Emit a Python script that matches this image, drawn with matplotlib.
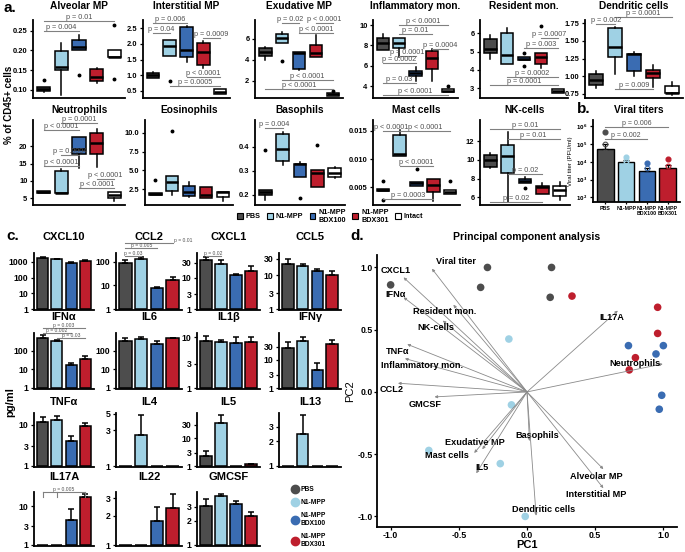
import numpy as np
import matplotlib.pyplot as plt
from matplotlib.patches import Patch
from matplotlib.lines import Line2D
from matplotlib.ticker import NullLocator

plt.rcParams['font.family'] = ['Liberation Sans', 'DejaVu Sans']
plt.rcParams['font.weight'] = 'bold'
plt.rcParams['mathtext.default'] = 'bf'

groups = ["PBS", "N1-MPP", "N1-MPP\nBDX100", "N1-MPP\nBDX301", "Intact"]
colors = ["#4d4d4d", "#9fd1e4", "#3a6cb2", "#be1e2d", "white"]

# panel a: (whisker low, q1, median, q3, whisker high, outliers) for each group
alveolar_mp = [(0.095, 0.098, 0.1025, 0.107, 0.108, [0.125]),
               (0.087, 0.1505, 0.159, 0.199, 0.218, []),
               (0.201, 0.201, 0.2095, 0.226, 0.239, [0.138]),
               (0.117, 0.123, 0.134, 0.153, 0.155, []),
               (0.183, 0.183, 0.184, 0.201, 0.201, [0.264, 0.128])]
interstitial_mp = [(0.90, 0.917, 0.99, 1.078, 1.09, []),
                   (1.623, 1.623, 1.933, 2.126, 2.126, [0.81]),
                   (1.43, 1.57, 1.80, 2.55, 2.57, []),
                   (1.24, 1.32, 1.75, 2.02, 2.10, []),
                   (0.38, 0.38, 0.46, 0.54, 0.54, [])]
exudative_mp = [(3.98, 4.37, 4.75, 5.10, 5.26, []),
                (5.65, 5.65, 6.06, 6.45, 6.7, [3.9]),
                (3.02, 3.09, 4.69, 4.78, 4.78, []),
                (4.3, 4.3, 4.7, 5.42, 6.38, []),
                (0.56, 0.56, 0.72, 0.85, 0.85, [1.0])]
inflammatory_mon = [(7.54, 7.54, 8.26, 8.69, 9.08, []),
                    (6.9, 7.7, 8.26, 8.75, 8.75, []),
                    (4.5, 4.98, 5.31, 5.5, 5.9, []),
                    (4.5, 5.64, 6.79, 7.48, 7.64, []),
                    (3.44, 3.44, 3.54, 3.67, 3.67, [4.0])]
resident_mon = [(4.6, 4.91, 5.13, 5.67, 5.91, []),
                (4.33, 4.33, 4.82, 6.0, 6.27, []),
                (4.55, 4.55, 4.62, 4.69, 4.69, [4.95, 4.24]),
                (4.09, 4.33, 4.69, 4.91, 4.91, [6.42]),
                (2.73, 2.73, 2.84, 2.95, 2.95, [])]
dendritic_cells = [(0.83, 0.877, 0.948, 1.033, 1.075, []),
                   (1.03, 1.269, 1.42, 1.689, 1.70, []),
                   (1.0, 1.075, 1.316, 1.316, 1.35, []),
                   (0.845, 0.97, 1.05, 1.09, 1.16, []),
                   (0.735, 0.76, 0.77, 0.863, 0.925, [])]
neutrophils = [(6.62, 6.62, 6.9, 7.2, 7.2, []),
               (6.43, 6.43, 6.62, 12.9, 13.3, []),
               (13.6, 17.7, 19.04, 22.5, 22.7, []),
               (14.1, 17.7, 21.0, 23.8, 25.0, []),
               (4.33, 5.0, 5.96, 6.9, 6.9, [])]
eosinophils = [(1.7, 1.7, 1.85, 1.93, 1.93, [3.69]),
               (1.7, 2.28, 3.38, 4.22, 4.22, [10.17]),
               (1.49, 1.57, 2.15, 2.9, 3.38, []),
               (1.27, 1.27, 1.7, 2.72, 2.8, []),
               (0.91, 1.49, 2.06, 2.15, 2.15, [])]
basophils = [(0.179, 0.2, 0.211, 0.221, 0.221, [0.386]),
             (0.325, 0.342, 0.389, 0.452, 0.462, []),
             (0.276, 0.276, 0.328, 0.328, 0.335, [0.186]),
             (0.232, 0.234, 0.29, 0.303, 0.303, [0.407]),
             (0.27, 0.276, 0.29, 0.31, 0.317, [])]
mast_cells = [(0.00435, 0.00435, 0.00453, 0.0047, 0.0047, [0.0062, 0.00275]),
              (0.0106, 0.0106, 0.011, 0.0143, 0.0152, []),
              (0.0052, 0.00524, 0.0057, 0.006, 0.006, [0.0082]),
              (0.0026, 0.0042, 0.0054, 0.0065, 0.0065, []),
              (0.0038, 0.0038, 0.0041, 0.0045, 0.0045, [0.0062])]
nk_cells = [(9.08, 9.26, 9.97, 10.5, 10.68, []),
            (5.54, 8.62, 10.4, 11.57, 13.0, []),
            (7.56, 7.56, 7.77, 7.95, 8.2, [6.96]),
            (6.35, 6.35, 7.13, 7.2, 7.49, []),
            (5.72, 6.14, 6.78, 7.2, 7.67, [])]

# p-value brackets: (group from, group to, height, label[, label x])
alveolar_p = [(1, 5, 0.275, "p = 0.01"), (1, 3, 0.25, "p = 0.004")]
interstitial_p = [(1, 3, 2.66, "p = 0.006"), (1, 2, 2.34, "p = 0.04"), (4, 5, 2.18, "p = 0.0009"),
                  (3, 5, 0.93, "p < 0.0001"), (2, 5, 0.65, "p = 0.0005")]
exudative_p = [(2, 3, 7.5, "p = 0.02"), (4, 5, 7.5, "p < 0.0001"), (3, 5, 6.55, "p < 0.0001"),
               (2, 5, 2.06, "p < 0.0001"), (1, 5, 1.17, "p < 0.0001")]
inflammatory_p = [(2, 5, 10.0, "p < 0.0001"), (2, 4, 9.08, "p = 0.01"), (4, 5, 7.6, "p = 0.0004"),
                  (2, 3, 6.95, "p = 0.0001"), (1, 3, 6.23, "p = 0.0002"), (1, 3, 4.26, "p = 0.03"),
                  (1, 5, 3.1, "p < 0.0001")]
resident_p = [(4, 5, 5.76, "p = 0.0007"), (3, 5, 5.22, "p = 0.003"), (2, 5, 3.64, "p = 0.0002"),
              (1, 5, 3.18, "p = 0.0001")]
dendritic_p = [(1, 2, 1.74, "p = 0.002"), (2, 5, 1.845, "p = 0.0001"), (2, 4, 0.816, "p = 0.009")]
neutrophils_p = [(2, 4, 26.7, "p = 0.0001"), (1, 3, 24.6, "p < 0.0001"), (2, 3, 17.4, "p = 0.0004"),
                 (1, 3, 14.26, "p < 0.0001"), (4, 5, 10.5, "p < 0.0001"), (3, 5, 7.9, "p < 0.0001")]
basophils_p = [(1, 2, 0.476, "p = 0.004")]
mast_p = [(1, 2, 0.0150, "p < 0.0001"), (2, 5, 0.0150, "p < 0.0001"), (2, 4, 0.0088, "p < 0.0001"),
          (1, 4, 0.0030, "p = 0.0003")]
nk_p = [(1, 5, 13.23, "p = 0.01"), (2, 5, 12.17, "p = 0.01"), (2, 4, 8.48, "p = 0.02"),
        (1, 4, 5.54, "p = 0.02")]

# panel b: viral titers (PFU/ml)
titer_mean = [53700, 10000, 3090, 4680]
titer_upper = [100000, 13500, 4700, 6600]
titer_points = [[468000, 100000, 35500, 20000, 10000],
                [18600, 11200, 8100, 6000],
                [9100, 4700, 1120],
                [14100, 5750, 2140]]
titer_p = [(1, 4, 890000, "p = 0.006"), (1, 3, 186000, "p = 0.002")]

# panel c: cytokines (pg/ml), group mean and top of error bar
cytokines = ["CXCL10", "CCL2", "CXCL1", "CCL5", "IFNα", "IL6", "IL1β", "IFNγ",
             "TNFα", "IL4", "IL5", "IL13", "IL17A", "IL22", "GMCSF"]
cyto_mean = [[1780, 1400, 870, 1100], [85, 126, 7.7, 17.5], [36, 26, 12.4, 16], [22, 19, 13, 10],
             [490, 340, 16, 36], [330, 420, 220, 460], [8.5, 8.2, 7.8, 8.2], [26, 48, 4.5, 36],
             [12, 13, 4.0, 9.2], [1, 2.6, 1, 1], [2.3, 34, 1, 1.18], [1, 2.43, 1, 1],
             [1, 1, 4.4, 17], [1, 1, 1.76, 2.37], [3.06, 4.07, 3.2, 2.3]]
cyto_upper = [[1950, 1500, 950, 1200], [118, 163, 8.3, 23], [45, 35, 13, 23], [30, 22, 15, 13],
              [680, 390, 21, 54], [460, 550, 330, 500], [10.4, 9.0, 10.3, 10.2], [42, 68, 8, 51],
              [16, 17, 5.3, 11.4], [None, 4.8, None, None], [3.6, 69, None, 1.22], [None, 4.2, None, None],
              [None, None, 8.2, 20], [None, None, 2.43, 3.3], [3.7, 4.3, 3.5, 2.6]]
cyto_ticks = [[1, 10, 100, 1000], [1, 10, 100], [1, 3, 10, 30], [1, 3, 10, 30],
              [1, 10, 100], [1, 10, 100], [1, 3, 10], [1, 3, 10, 30],
              [1, 3, 10], [1, 3, 5], [1, 3, 10, 30], [1, 2, 3],
              [1, 3, 10], [1, 2, 3], [1, 2, 3]]
cyto_ylim = [(0.9, 3550), (0.93, 232), (0.95, 60), (0.95, 45),
             (0.94, 870), (0.94, 870), (0.98, 12.1), (0.96, 91),
             (0.97, 19.6), (0.985, 5.1), (0.96, 80), (0.985, 4.43),
             (0.97, 23), (0.99, 3.47), (0.985, 4.57)]
ccl2_p = [(1, 2, 174, "p = 0.03"), (1, 3, 365, "p = 0.005"), (1, 4, 590, "p = 0.01", 4.7)]
cxcl1_p = [(1, 2, 49, "p = 0.02")]
ifna_p = [(1, 4, 1550, "p = 0.003"), (1, 3, 850, "p = 0.002"), (2, 4, 460, "p = 0.03")]
cyto_p = {1: ccl2_p, 2: cxcl1_p, 4: ifna_p}

# panel d: PCA scores and loadings
pca_x = [[-1.0, -0.34, -0.29, 0.18, 0.17],
         [-0.133, -0.114, -0.72, -0.196, -0.013],
         [0.744, 1.0, 0.946, 0.988, 0.97],
         [0.33, 0.958, 0.958, 0.795, 0.75]]
pca_y = [[0.86, 0.84, 1.0, 1.0, 0.76],
         [0.425, -0.104, -0.47, -0.576, -1.0],
         [0.372, 0.372, 0.305, -0.027, -0.139],
         [0.77, 0.68, 0.47, 0.275, 0.177]]
loading_names = ["CXCL1", "Viral titer", "IFNα", "Resident mon.", "NK-cells", "TNFα",
                 "Inflammatory mon.", "CCL2", "GMCSF", "IL17A", "Neutrophils", "Exudative MP",
                 "Mast cells", "IL5", "Basophils", "Alveolar MP", "Interstitial MP", "Dendritic cells"]
loading_x = [-0.905, -0.697, -0.905, -0.54, -0.617, -0.878, -0.895, -0.946, -0.678, 0.666, 0.995,
             -0.328, -0.387, -0.372, 0.018, 0.56, 0.56, 0.067]
loading_y = [0.92, 0.99, 0.76, 0.70, 0.573, 0.383, 0.268, 0.07, -0.04, 0.653, 0.225,
             -0.46, -0.49, -0.653, -0.394, -0.62, -0.773, -0.994]
label_x = [-0.96, -0.52, -0.966, -0.6, -0.67, -0.946, -0.77, -0.99, -0.746, 0.625, 0.79,
           -0.385, -0.585, -0.333, 0.072, 0.507, 0.507, 0.12]
label_y = [0.975, 1.05, 0.785, 0.645, 0.52, 0.324, 0.209, 0.016, -0.099, 0.60, 0.225,
           -0.407, -0.508, -0.605, -0.35, -0.68, -0.827, -0.948]


W, H = 685, 552
fig = plt.figure(figsize=(W / 100, H / 100), dpi=100)


def px_axes(l, t, r, b):
    return fig.add_axes([l / W, 1 - b / H, (r - l) / W, (b - t) / H])


def ftext(x, y, s, **kw):
    fig.text(x / W, 1 - y / H, s, ha=kw.pop("ha", "center"), va=kw.pop("va", "center"), **kw)


def classic(ax, size):
    for s in ["top", "right"]:
        ax.spines[s].set_visible(False)
    for s in ["left", "bottom"]:
        ax.spines[s].set_linewidth(1.3)
    ax.tick_params(labelsize=size, width=0.9, length=2.5, pad=1.5)


def pvals(ax, brackets, size=5.2):
    for b in brackets:
        x1, x2, y, label = b[:4]
        lx = b[4] if len(b) > 4 else (x1 + x2) / 2
        ax.plot([x1, x2], [y, y], color="#808080", lw=0.8, clip_on=False)
        ax.text(lx, y, label, ha="center", va="bottom", fontsize=size,
                color="#505050", fontweight="normal", clip_on=False)


# ---- panel a ----
box_panels = [
    ("Alveolar MP", alveolar_mp, alveolar_p, (33, 20, 125, 98), (0.0797, 0.277), [0.10, 0.15, 0.20, 0.25], "{:.2f}"),
    ("Interstitial MP", interstitial_mp, interstitial_p, (143, 20, 230, 98), (0.266, 2.77), [0.5, 1.0, 1.5, 2.0, 2.5], "{:.1f}"),
    ("Exudative MP", exudative_mp, exudative_p, (255, 20, 343, 98), (0.34, 7.82), [2, 4, 6], "{}"),
    ("Inflammatory mon.", inflammatory_mon, inflammatory_p, (373, 20, 458, 98), (2.82, 10.5), [4, 6, 8, 10], "{}"),
    ("Resident mon.", resident_mon, resident_p, (480, 20, 568, 98), (2.47, 6.73), [3, 4, 5, 6], "{}"),
    ("Dendritic cells", dendritic_cells, dendritic_p, (585, 20, 683, 98), (0.693, 1.797), [0.75, 1.00, 1.25, 1.50, 1.75], "{:.2f}"),
    ("Neutrophils", neutrophils, neutrophils_p, (33, 120, 125, 205), (3.08, 27.5), [5, 10, 15, 20], "{}"),
    ("Eosinophils", eosinophils, [], (145, 120, 233, 205), (0.37, 11.7), [2.5, 5.0, 7.5, 10.0], "{:.1f}"),
    ("Basophils", basophils, basophils_p, (255, 120, 345, 205), (0.1586, 0.51), [0.2, 0.3, 0.4], "{:.1f}"),
    ("Mast cells", mast_cells, mast_p, (373, 120, 460, 205), (0.00186, 0.01695), [0.005, 0.010, 0.015], "{:.3f}"),
    ("NK-cells", nk_cells, nk_p, (480, 120, 570, 205), (5.18, 14.24), [6, 8, 10, 12], "{}"),
]

for title, stats, brackets, box, ylim, ticks, fmt in box_panels:
    ax = px_axes(*box)
    bx = [dict(whislo=s[0], q1=s[1], med=s[2], q3=s[3], whishi=s[4], fliers=np.array(s[5])) for s in stats]
    res = ax.bxp(bx, positions=range(1, 6), widths=0.75, patch_artist=True, showcaps=False,
                 boxprops=dict(edgecolor="black", linewidth=1.1),
                 medianprops=dict(color="black", linewidth=1.8),
                 whiskerprops=dict(color="black", linewidth=1.1),
                 flierprops=dict(marker="o", markersize=1.8, markerfacecolor="black", markeredgecolor="black"))
    for patch, c in zip(res["boxes"], colors):
        patch.set_facecolor(c)
    ax.set_xlim(0.4, 5.6)
    ax.set_ylim(*ylim)
    ax.set_xticks([])
    ax.set_yticks(ticks)
    ax.set_yticklabels([fmt.format(t) for t in ticks])
    classic(ax, 5.4)
    pvals(ax, brackets)
    ftext((box[0] + box[2]) / 2, 6 if box[1] == 20 else 110, title, fontsize=7.3)

ftext(9, 105, "% of CD45+ cells", rotation=90, fontsize=7)
ftext(4, 8, "a.", ha="left", fontsize=11)

fig.legend([Patch(facecolor=c, edgecolor="black", linewidth=0.8) for c in colors], groups,
           loc="center", bbox_to_anchor=(330 / W, 1 - 216 / H), ncol=5, frameon=False,
           fontsize=5.2, handlelength=0.8, handleheight=1.0, columnspacing=0.9, handletextpad=0.4)

# ---- panel b ----
axb = px_axes(593, 120, 680, 202)
xb = np.arange(1, 5)
axb.set_yscale("log")
axb.bar(xb, np.array(titer_mean) - 10, bottom=10, width=0.8, color=colors[:4], edgecolor="black", linewidth=1.0)
for xi, m, u in zip(xb, titer_mean, titer_upper):
    axb.errorbar(xi, m, yerr=[[0], [u - m]], color="black", capsize=2.0, lw=0.9, capthick=0.9)
for xi, pts, c in zip(xb, titer_points, colors):
    axb.plot([xi], pts[:1], "o", ms=3.4, color=c, mec=c, zorder=4)
    axb.plot([xi] * (len(pts) - 1), pts[1:], "o", ms=3.4, mfc="none", mec=c, mew=0.8, zorder=4)
axb.set_xlim(0.4, 4.6)
axb.set_ylim(53.7, 2.3e6)
axb.set_yticks([1e2, 1e3, 1e4, 1e5, 1e6])
axb.set_yticklabels(["$10^{%d}$" % k for k in range(2, 7)])
axb.yaxis.set_minor_locator(NullLocator())
axb.set_xticks(xb)
axb.set_xticklabels(groups[:4], linespacing=0.9)
classic(axb, 3.6)
axb.tick_params(axis="x", labelsize=3.8, length=1.5)
axb.set_ylabel("Viral titer (PFU/ml)", fontsize=4.3, labelpad=2)
pvals(axb, titer_p, size=5.0)
ftext(639, 110, "Viral titers", fontsize=7.3)
ftext(577, 109, "b.", ha="left", fontsize=11)

# ---- panel c ----
col_x = [(34, 94), (116, 182), (197, 260), (279, 341)]
row_y = [(253, 310), (333, 388.5), (413, 466.5), (492, 545.5)]
title_y = [237, 317, 402, 477]
xc = np.arange(1, 5)
for i, name in enumerate(cytokines):
    r, c = divmod(i, 4)
    ax = px_axes(col_x[c][0], row_y[r][0], col_x[c][1], row_y[r][1])
    ax.set_yscale("log")
    means = cyto_mean[i]
    ax.bar(xc, [m - 1 for m in means], bottom=1, width=0.78, color=colors[:4],
           edgecolor="black", linewidth=1.1)
    for xi, m, u in zip(xc, means, cyto_upper[i]):
        if u is not None:
            ax.errorbar(xi, m, yerr=[[0], [u - m]], color="black", capsize=2.5, lw=1.1, capthick=1.1)
    ax.set_xlim(0.4, 4.6)
    ax.set_ylim(*cyto_ylim[i])
    ax.set_yticks(cyto_ticks[i])
    ax.set_yticklabels([str(t) for t in cyto_ticks[i]])
    ax.yaxis.set_minor_locator(NullLocator())
    ax.set_xticks([])
    classic(ax, 6.3)
    if i in cyto_p:
        pvals(ax, cyto_p[i], size=3.6)
    if name == "IL17A":
        # bracket spanning PBS/N1-MPP to BDX301
        ax.plot([1, 4], [23, 23], color="#808080", lw=0.8, clip_on=False)
        for xi in [1, 2, 4]:
            ax.plot([xi, xi], [23, 17], color="#808080", lw=0.8, clip_on=False)
        ax.text(2.5, 23, "p = 0.005", ha="center", va="bottom", fontsize=3.6,
                color="#505050", fontweight="normal", clip_on=False)
    ftext((col_x[c][0] + col_x[c][1]) / 2, title_y[r], name, fontsize=8)

ftext(10, 402, "pg/ml", rotation=90, fontsize=8)
ftext(6, 236, "c.", ha="left", fontsize=11)

fig.legend([Line2D([], [], marker="o", ls="none", ms=6, color=c) for c in colors[:4]], groups[:4],
           loc="center left", bbox_to_anchor=(285 / W, 1 - 517 / H), frameon=False,
           fontsize=4.8, labelspacing=0.9, handletextpad=0.2, handlelength=1.2)

# ---- panel d ----
axd = px_axes(377, 255, 677, 527)
for xs, ys, c in zip(pca_x, pca_y, colors):
    axd.scatter(xs, ys, s=30, color=c, edgecolors="none", zorder=3)
for name, x, y, lx, ly in zip(loading_names, loading_x, loading_y, label_x, label_y):
    axd.annotate("", xy=(x, y), xytext=(0, 0),
                 arrowprops=dict(arrowstyle="-|>", color="#8a8a8a", lw=0.6, mutation_scale=4,
                                 shrinkA=0, shrinkB=0))
    axd.text(lx, ly, name, ha="center", va="center", fontsize=6.6)
axd.set_xlim(-1.1, 1.1)
axd.set_ylim(-1.085, 1.1)
axd.set_xticks([-1.0, -0.5, 0.0, 0.5, 1.0])
axd.set_yticks([-1.0, -0.5, 0.0, 0.5, 1.0])
axd.set_xticklabels(["-1.0", "-0.5", "0.0", "0.5", "1.0"])
axd.set_yticklabels(["-1.0", "-0.5", "0.0", "0.5", "1.0"])
classic(axd, 6.3)
axd.tick_params(length=2, pad=1)
ftext(527, 545, "PC1", fontsize=8)
axd.set_ylabel("PC2", fontsize=8, labelpad=2)
ftext(527, 237, "Principal component analysis", fontsize=7.5)
ftext(350, 236, "d.", ha="left", fontsize=11)

fig.savefig("out.png", dpi=100)
